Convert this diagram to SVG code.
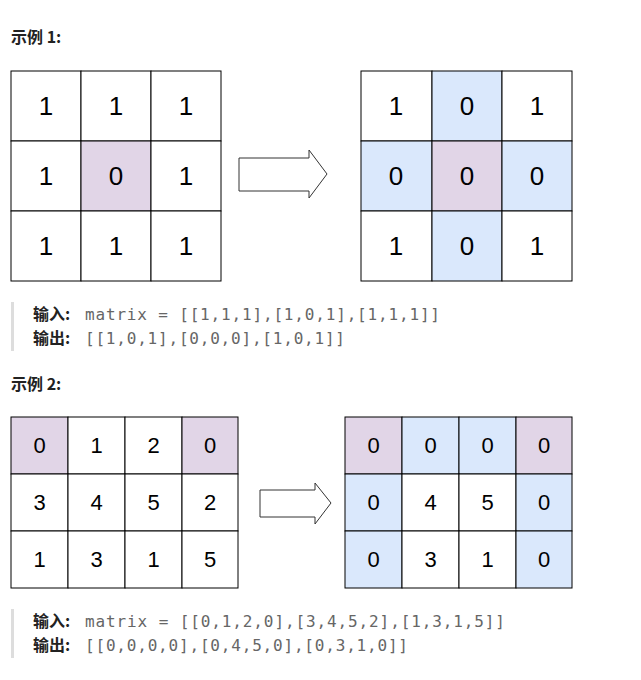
<svg xmlns="http://www.w3.org/2000/svg" width="641" height="680" viewBox="0 0 641 680">
<style>
.c{fill:#fff;stroke:#000;stroke-width:1}
.p{fill:#e1d5e7}.b{fill:#dae8fc}
.n{font-family:"Liberation Sans",Arial,sans-serif;font-size:26px;fill:#000;text-anchor:middle}
.n2{font-family:"Liberation Sans",Arial,sans-serif;font-size:22px;fill:#000;text-anchor:middle}
.h{font-family:"Noto Sans CJK SC",sans-serif;font-weight:bold;font-size:16px;fill:#222}
.code{font-family:"DejaVu Sans Mono",monospace;font-size:16px;fill:#666}
.ar{fill:#fff;stroke:#333;stroke-width:1}
</style>
<rect width="641" height="680" fill="#fff"/>
<text class="h" x="11" y="43">示例 1:</text>
<g id="g1">
<rect class="c" x="11" y="71" width="70" height="70"/><rect class="c" x="81" y="71" width="70" height="70"/><rect class="c" x="151" y="71" width="70" height="70"/>
<rect class="c" x="11" y="141" width="70" height="70"/><rect class="c p" x="81" y="141" width="70" height="70"/><rect class="c" x="151" y="141" width="70" height="70"/>
<rect class="c" x="11" y="211" width="70" height="70"/><rect class="c" x="81" y="211" width="70" height="70"/><rect class="c" x="151" y="211" width="70" height="70"/>
<text class="n" x="46" y="115">1</text><text class="n" x="116" y="115">1</text><text class="n" x="186" y="115">1</text>
<text class="n" x="46" y="185">1</text><text class="n" x="116" y="185">0</text><text class="n" x="186" y="185">1</text>
<text class="n" x="46" y="255">1</text><text class="n" x="116" y="255">1</text><text class="n" x="186" y="255">1</text>
</g>
<g id="arrow1"><path class="ar" d="M239,158 H309 V150 L327,174 L309,198 V191 H239 Z"/></g>
<g id="g2">
<rect class="c" x="361" y="71" width="71" height="70"/><rect class="c b" x="432" y="71" width="70" height="70"/><rect class="c" x="502" y="71" width="70" height="70"/>
<rect class="c b" x="361" y="141" width="71" height="70"/><rect class="c p" x="432" y="141" width="70" height="70"/><rect class="c b" x="502" y="141" width="70" height="70"/>
<rect class="c" x="361" y="211" width="71" height="70"/><rect class="c b" x="432" y="211" width="70" height="70"/><rect class="c" x="502" y="211" width="70" height="70"/>
<text class="n" x="396" y="115">1</text><text class="n" x="467" y="115">0</text><text class="n" x="537" y="115">1</text>
<text class="n" x="396" y="185">0</text><text class="n" x="467" y="185">0</text><text class="n" x="537" y="185">0</text>
<text class="n" x="396" y="255">1</text><text class="n" x="467" y="255">0</text><text class="n" x="537" y="255">1</text>
</g>
<rect x="11" y="302" width="3" height="49" fill="#ddd"/>
<text x="33" y="320"><tspan class="h">输入:</tspan></text>
<text class="code" x="85" y="320" textLength="355">matrix = [[1,1,1],[1,0,1],[1,1,1]]</text>
<text x="33" y="344"><tspan class="h">输出:</tspan></text>
<text class="code" x="85" y="344" textLength="260">[[1,0,1],[0,0,0],[1,0,1]]</text>
<text class="h" x="11" y="390">示例 2:</text>
<g id="g3">
<rect class="c p" x="11" y="417" width="57" height="57"/><rect class="c" x="68" y="417" width="57" height="57"/><rect class="c" x="125" y="417" width="57" height="57"/><rect class="c p" x="182" y="417" width="56" height="57"/>
<rect class="c" x="11" y="474" width="57" height="57"/><rect class="c" x="68" y="474" width="57" height="57"/><rect class="c" x="125" y="474" width="57" height="57"/><rect class="c" x="182" y="474" width="56" height="57"/>
<rect class="c" x="11" y="531" width="57" height="57"/><rect class="c" x="68" y="531" width="57" height="57"/><rect class="c" x="125" y="531" width="57" height="57"/><rect class="c" x="182" y="531" width="56" height="57"/>
<text class="n2" x="39.5" y="453">0</text><text class="n2" x="96.5" y="453">1</text><text class="n2" x="153.5" y="453">2</text><text class="n2" x="210" y="453">0</text>
<text class="n2" x="39.5" y="510">3</text><text class="n2" x="96.5" y="510">4</text><text class="n2" x="153.5" y="510">5</text><text class="n2" x="210" y="510">2</text>
<text class="n2" x="39.5" y="567">1</text><text class="n2" x="96.5" y="567">3</text><text class="n2" x="153.5" y="567">1</text><text class="n2" x="210" y="567">5</text>
</g>
<g id="arrow2"><path class="ar" d="M260,490 H315 V483 L331,503 L315,524 V517 H260 Z"/></g>
<g id="g4">
<rect class="c p" x="345" y="417" width="57" height="57"/><rect class="c b" x="402" y="417" width="57" height="57"/><rect class="c b" x="459" y="417" width="57" height="57"/><rect class="c p" x="516" y="417" width="56" height="57"/>
<rect class="c b" x="345" y="474" width="57" height="57"/><rect class="c" x="402" y="474" width="57" height="57"/><rect class="c" x="459" y="474" width="57" height="57"/><rect class="c b" x="516" y="474" width="56" height="57"/>
<rect class="c b" x="345" y="531" width="57" height="57"/><rect class="c" x="402" y="531" width="57" height="57"/><rect class="c" x="459" y="531" width="57" height="57"/><rect class="c b" x="516" y="531" width="56" height="57"/>
<text class="n2" x="373.5" y="453">0</text><text class="n2" x="430.5" y="453">0</text><text class="n2" x="487.5" y="453">0</text><text class="n2" x="544" y="453">0</text>
<text class="n2" x="373.5" y="510">0</text><text class="n2" x="430.5" y="510">4</text><text class="n2" x="487.5" y="510">5</text><text class="n2" x="544" y="510">0</text>
<text class="n2" x="373.5" y="567">0</text><text class="n2" x="430.5" y="567">3</text><text class="n2" x="487.5" y="567">1</text><text class="n2" x="544" y="567">0</text>
</g>
<rect x="11" y="609" width="3" height="49" fill="#ddd"/>
<text x="33" y="627"><tspan class="h">输入:</tspan></text>
<text class="code" x="85" y="627" textLength="420">matrix = [[0,1,2,0],[3,4,5,2],[1,3,1,5]]</text>
<text x="33" y="651"><tspan class="h">输出:</tspan></text>
<text class="code" x="85" y="651" textLength="323">[[0,0,0,0],[0,4,5,0],[0,3,1,0]]</text>
</svg>
